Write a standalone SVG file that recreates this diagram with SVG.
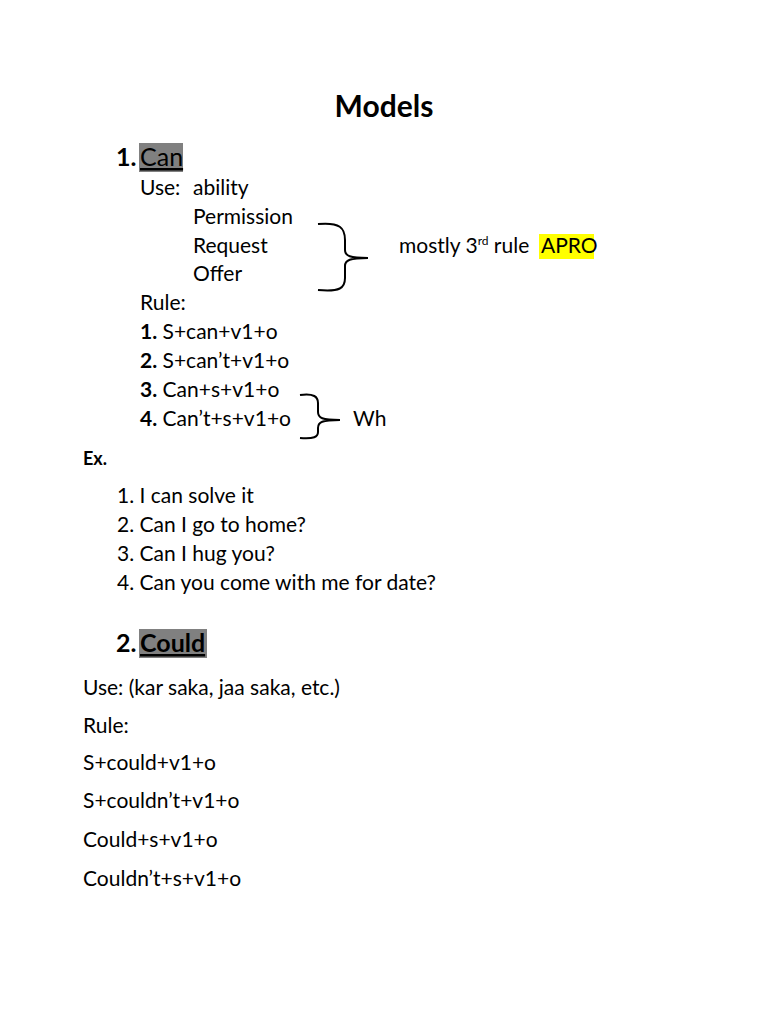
<svg xmlns="http://www.w3.org/2000/svg" width="768" height="1024" viewBox="0 0 768 1024">
<style>
text{font-family:Lato,"Open Sans","Liberation Sans",sans-serif;font-size:21px;fill:#000}
.b{font-weight:bold}
.h{font-size:25px}
.br{fill:none;stroke:#000;stroke-width:2}
</style>
<rect width="768" height="1024" fill="#fff"/>
<text x="384" y="117" text-anchor="middle" class="b" style="font-size:30px">Models</text>
<rect x="139" y="143" width="44" height="29" fill="#808080"/>
<text x="116" y="166" class="b h">1.</text>
<text x="140" y="166" class="h" text-decoration="underline">Can</text>
<text x="140" y="195">Use:</text>
<text x="193" y="195">ability</text>
<text x="193" y="224">Permission</text>
<text x="193" y="253">Request</text>
<text x="193" y="281">Offer</text>
<path class="br" d="M318,224 C340,222 345,228 345,240 L345,250 C345,256 350,258 368,258 C350,258 345,260 345,266 L345,278 C345,288 340,292 318,290"/>
<rect x="539" y="234" width="55" height="25" fill="#ffff00"/>
<text x="399" y="253">mostly 3<tspan dy="-8" style="font-size:12px">rd</tspan><tspan dy="8"> rule</tspan></text>
<text x="541" y="253">APRO</text>
<text x="140" y="310">Rule:</text>
<text x="140" y="339"><tspan class="b">1.</tspan>  S+can+v1+o</text>
<text x="140" y="368"><tspan class="b">2.</tspan> S+can’t+v1+o</text>
<text x="140" y="397"><tspan class="b">3.</tspan> Can+s+v1+o</text>
<text x="140" y="426"><tspan class="b">4.</tspan> Can’t+s+v1+o</text>
<path class="br" d="M300,395 C314,393 318,397 318,403 L318,412 C318,418 322,420 340,420 C322,420 318,422 318,428 L318,432 C318,437 314,439 300,438"/>
<text x="353" y="426">Wh</text>
<text x="83" y="465" class="b" style="font-size:18px">Ex.</text>
<text x="117" y="503">1. I can solve it</text>
<text x="117" y="532">2. Can I go to home?</text>
<text x="117" y="561">3. Can I hug you?</text>
<text x="117" y="590">4. Can you come with me for date?</text>
<rect x="139" y="629" width="68" height="29" fill="#808080"/>
<text x="116" y="652" class="b h">2.</text>
<text x="140" y="652" class="b h" text-decoration="underline">Could</text>
<text x="83" y="695">Use: (kar saka, jaa saka, etc.)</text>
<text x="83" y="733">Rule:</text>
<text x="83" y="770">S+could+v1+o</text>
<text x="83" y="808">S+couldn’t+v1+o</text>
<text x="83" y="847">Could+s+v1+o</text>
<text x="83" y="886">Couldn’t+s+v1+o</text>
</svg>
